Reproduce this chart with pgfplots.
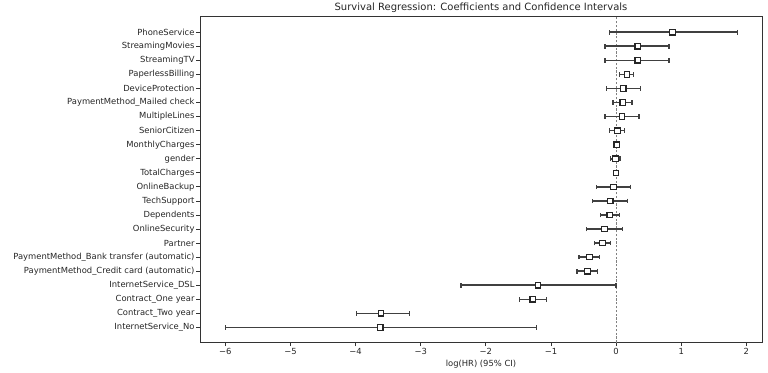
\documentclass[border=0pt]{standalone}
\usepackage{pgfplots}
\pgfplotsset{compat=1.18}
\usepackage{pgfplotstable}
\usepackage{fontspec}
\setmainfont{DejaVu Sans}
\definecolor{txt}{gray}{0.15}
\pgfplotstableread{
y c lo hi
20 0.865 -0.10 1.86
19 0.33 -0.17 0.81
18 0.33 -0.17 0.81
17 0.165 0.05 0.27
16 0.11 -0.15 0.37
15 0.10 -0.05 0.245
14 0.09 -0.17 0.35
13 0.02 -0.10 0.13
12 0.01 -0.005 0.025
11 -0.01 -0.09 0.06
10 0.0 -0.01 0.01
9 -0.04 -0.30 0.22
8 -0.09 -0.36 0.18
7 -0.10 -0.24 0.05
6 -0.18 -0.45 0.10
5 -0.21 -0.33 -0.09
4 -0.41 -0.57 -0.26
3 -0.44 -0.60 -0.29
2 -1.20 -2.38 0.00
1 -1.28 -1.48 -1.07
0 -3.61 -3.99 -3.17
-1 -3.62 -6.00 -1.22
}\coef
\begin{document}
\begin{tikzpicture}
\begin{axis}[
  scale only axis, width=562bp, height=326bp,
  at={(0,0)}, anchor=south west,
  xmin=-6.39, xmax=2.24, ymin=-2.07, ymax=21.12,
  axis line style={black!80, line width=0.8bp},
  tick style={black!80, line width=0.8bp},
  major tick length=3.5bp, tick align=outside,
  xtick pos=bottom, ytick pos=left,
  xtick={-6,-5,-4,-3,-2,-1,0,1,2},
  xticklabels={−6,−5,−4,−3,−2,−1,0,1,2},
  ytick={20,19,18,17,16,15,14,13,12,11,10,9,8,7,6,5,4,3,2,1,0,-1},
  yticklabels={PhoneService,StreamingMovies,StreamingTV,PaperlessBilling,DeviceProtection,{PaymentMethod\_Mailed check},MultipleLines,SeniorCitizen,MonthlyCharges,gender,TotalCharges,OnlineBackup,TechSupport,Dependents,OnlineSecurity,Partner,{PaymentMethod\_Bank transfer (automatic)},{PaymentMethod\_Credit card (automatic)},{InternetService\_DSL},{Contract\_One year},{Contract\_Two year},{InternetService\_No}},
  ticklabel style={font=\fontsize{8.4bp}{10bp}\selectfont, text=txt},
  yticklabel style={inner sep=1.8bp},
  xticklabel style={inner sep=2bp},
  xlabel={log(HR) (95\% CI)},
  xlabel style={font=\fontsize{8.4bp}{10bp}\selectfont, text=txt, yshift=0bp},
  title={Survival Regression: Coefficients and Confidence Intervals},
  title style={font=\fontsize{10bp}{12bp}\selectfont, text=txt, yshift=-6bp},
  clip=false,
]
\addplot[gray, line width=0.8bp, dash pattern=on 2.2bp off 1.6bp] coordinates {(0,-2.07) (0,21.12)};
\addplot[only marks, mark=none,
  error bars/.cd, x dir=both, x explicit,
  error bar style={black!75, line width=1.6bp},
  error mark options={black!75, line width=1.3bp, mark size=2.3bp, rotate=90}]
  table[x=c, y=y, x error plus expr=\thisrow{hi}-\thisrow{c}, x error minus expr=\thisrow{c}-\thisrow{lo}] {\coef};
\addplot[only marks, mark=square*, mark size=2.7bp, mark options={fill=white, draw=black!85, line width=1.2bp}]
  table[x=c, y=y] {\coef};
\end{axis}
\path[use as bounding box] (-200bp,-30bp) rectangle (568bp,342bp);
\end{tikzpicture}
\end{document}
